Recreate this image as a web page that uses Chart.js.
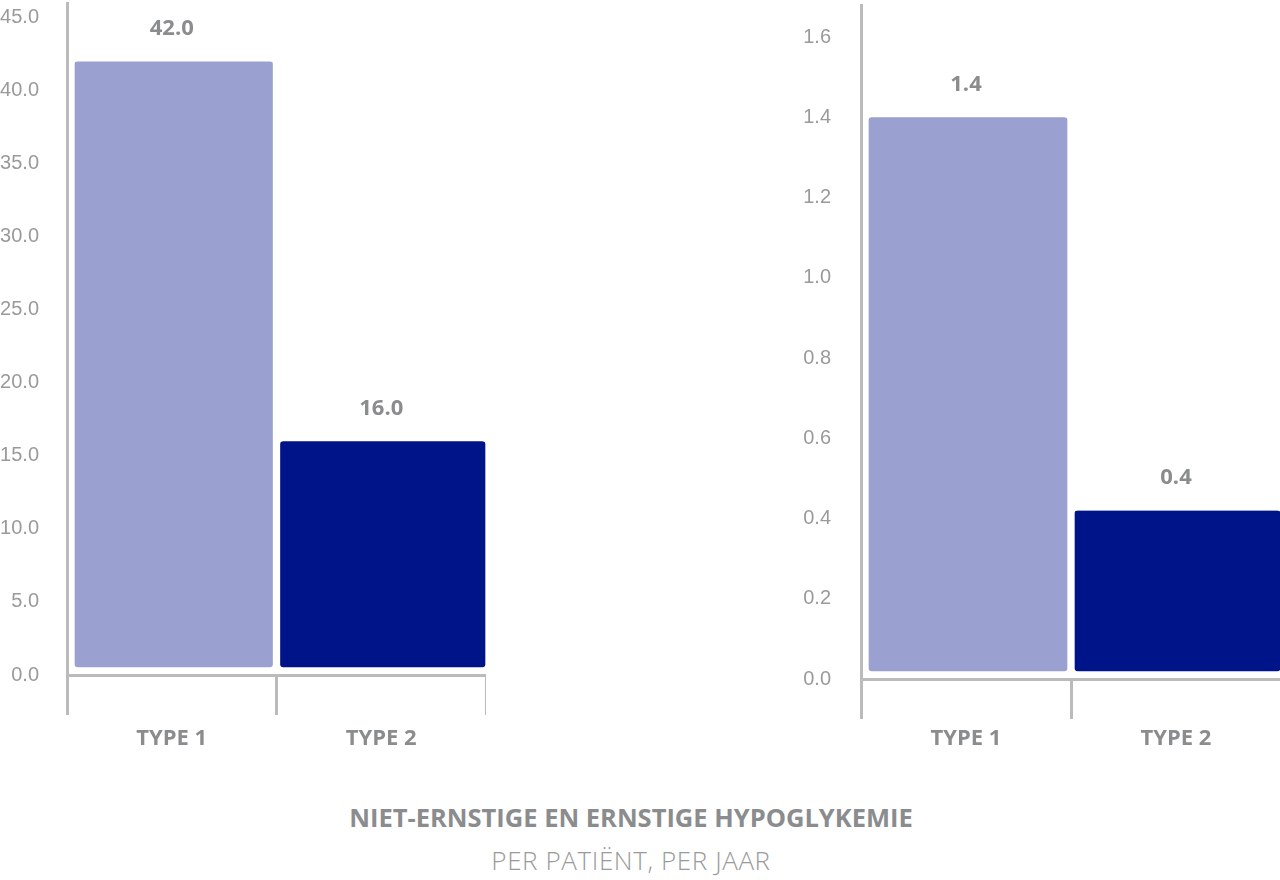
<!DOCTYPE html>
<html>
<head>
<meta charset="utf-8">
<script src="https://cdn.jsdelivr.net/npm/chart.js@4"></script>
<style>
  html, body { margin: 0; padding: 0; background: #fff; width: 1280px; height: 880px; overflow: hidden; }
  #leftWrap { position: absolute; left: 0; top: 0; width: 486px; height: 760px; }
  #rightWrap { position: absolute; left: 780px; top: 0; width: 501px; height: 760px; }
  .title { position: absolute; left: -9px; width: 1280px; text-align: center; font-family: "Open Sans", sans-serif; color: #8a8c8e; }
  #t1 { top: 800px; font-size: 25.5px; font-weight: 700; }
  #t2 { top: 842px; font-size: 26px; font-weight: 300; color: #9a9a9a; letter-spacing: 0.6px; }
</style>
</head>
<body>
<div id="leftWrap"><canvas id="leftChart"></canvas></div>
<div id="rightWrap"><canvas id="rightChart"></canvas></div>
<div class="title" id="t1">NIET-ERNSTIGE EN ERNSTIGE HYPOGLYKEMIE</div>
<div class="title" id="t2">PER PATIËNT, PER JAAR</div>
<script>
// data
const categories = ['TYPE 1', 'TYPE 2'];
const leftValues = [42.0, 16.0];
const rightValues = [1.4, 0.42];
const leftTicks = [0, 5, 10, 15, 20, 25, 30, 35, 40, 45];
const rightTicks = [0, 0.2, 0.4, 0.6, 0.8, 1.0, 1.2, 1.4, 1.6];
const leftMax = 46;
const rightMax = 1.68;
const barColors = ['#9aa0cf', '#00148a'];

const gray = '#8a8c8e';
const lineGray = '#bbbbbb';

// value labels above bars
const valueLabels = {
  id: 'valueLabels',
  afterDatasetsDraw(chart) {
    const ctx = chart.ctx;
    const meta = chart.getDatasetMeta(0);
    const data = chart.data.datasets[0].data;
    ctx.save();
    ctx.font = 'bold 22px "Open Sans"';
    ctx.fillStyle = gray;
    ctx.textAlign = 'center';
    ctx.textBaseline = 'middle';
    meta.data.forEach((bar, i) => {
      ctx.fillText(data[i].toFixed(1), bar.x, bar.y - 33);
    });
    ctx.restore();
  }
};

function makeChart(id, values, tickValues, max, yWidth, xHeight, padTop, labelPad, yPad) {
  const ctx = document.getElementById(id).getContext('2d');
  return new Chart(ctx, {
    type: 'bar',
    data: {
      labels: categories,
      datasets: [{
        data: values,
        backgroundColor: barColors,
        borderColor: '#ffffff',
        borderWidth: [
          { top: 0, left: 8, right: 4, bottom: 8 },
          { top: 0, left: 4, right: 1, bottom: 8 }
        ],
        borderSkipped: false,
        borderRadius: [
          { topLeft: 11, topRight: 7, bottomLeft: 11, bottomRight: 11 },
          { topLeft: 7, topRight: 4, bottomLeft: 11, bottomRight: 11 }
        ],
        barPercentage: 1,
        categoryPercentage: 1
      }]
    },
    options: {
      responsive: true,
      maintainAspectRatio: false,
      animation: false,
      layout: { padding: { top: padTop, right: 0, left: 0, bottom: 0 } },
      plugins: {
        legend: { display: false },
        tooltip: { enabled: false }
      },
      scales: {
        x: {
          grid: {
            offset: true,
            drawOnChartArea: false,
            drawTicks: true,
            tickLength: 40,
            color: lineGray,
            lineWidth: 3
          },
          border: { display: true, color: lineGray, width: 3, z: 1 },
          ticks: {
            color: gray,
            padding: labelPad,
            font: { family: 'Open Sans', weight: 'bold', size: 22 }
          },
          afterFit(scale) {
            scale.height = xHeight;
            scale.paddingLeft = 0;
            scale.paddingRight = 0;
          }
        },
        y: {
          min: 0,
          max: max,
          grid: { display: false },
          border: { display: true, color: lineGray, width: 3, z: 1 },
          ticks: {
            color: '#9a9a9a',
            padding: yPad,
            font: { family: 'Liberation Sans', size: 20 },
            callback: v => Number(v).toFixed(1)
          },
          afterBuildTicks(scale) {
            scale.ticks = tickValues.map(v => ({ value: v }));
          },
          afterFit(scale) {
            scale.width = yWidth;
            scale.paddingTop = 0;
            scale.paddingBottom = 0;
          }
        }
      }
    },
    plugins: [valueLabels]
  });
}

makeChart('leftChart', leftValues, leftTicks, leftMax, 67, 85, 3, 11, 20);
makeChart('rightChart', rightValues, rightTicks, rightMax, 81, 81, 5, 7, 22);
</script>
</body>
</html>
